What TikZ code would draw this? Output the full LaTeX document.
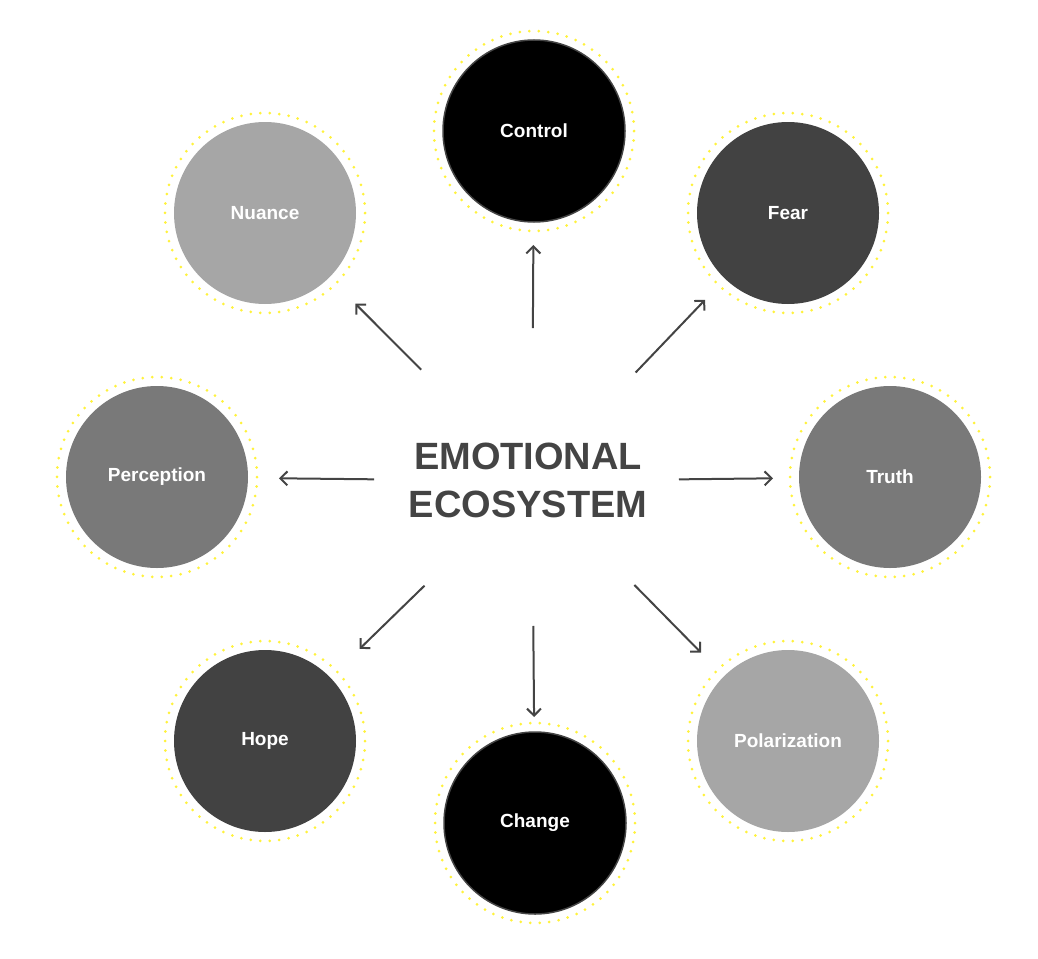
\documentclass[tikz,border=0pt]{standalone}
\usepackage{fontspec}
\setmainfont{Liberation Sans}
\usetikzlibrary{arrows.meta}
\definecolor{ringyellow}{RGB}{255,242,60}
\definecolor{titlegray}{RGB}{68,68,68}
\definecolor{darkfill}{RGB}{66,66,66}
\definecolor{midfill}{RGB}{121,121,121}
\definecolor{lightfill}{RGB}{166,166,166}

\begin{document}
\begin{tikzpicture}[x=1pt,y=-1pt,
    bubble/.style={circle,inner sep=0,minimum size=182pt,text=white,font=\fontsize{19}{22}\selectfont\bfseries},
    glow/.style={draw=ringyellow,line width=3pt,line cap=round,dash pattern=on 0pt off 9.52pt},
    link/.style={draw=titlegray,line width=2pt,-{Straight Barb[length=7pt,width=14pt]}}]
        \useasboundingbox (0,0) rectangle (1038,958);
        % Title
        \node[font=\fontsize{38}{48}\selectfont\bfseries,text=titlegray,align=center] (Title) at (528,480) {EMOTIONAL\\ECOSYSTEM};
        \coordinate (Hub) at (532,481);
        % Bubbles
        \node[bubble,fill=black,draw=titlegray,line width=1.5pt] (Control) at (534,131) {Control};
        \node[bubble,fill=darkfill] (Fear) at (788,213) {Fear};
        \node[bubble,fill=midfill] (Truth) at (890,477) {Truth};
        \node[bubble,fill=lightfill] (Polarization) at (788,741) {Polarization};
        \node[bubble,fill=black,draw=titlegray,line width=1.5pt] (Change) at (535,823) {Change};
        \node[bubble,fill=darkfill] (Hope) at (265,741) {Hope};
        \node[bubble,fill=midfill] (Perception) at (157,477) {Perception};
        \node[bubble,fill=lightfill] (Nuance) at (265,213) {Nuance};
        % Dotted rings
        \foreach \n in {Control,Fear,Truth,Polarization,Change,Hope,Perception,Nuance} { \draw[glow] (\n.center) circle[radius=100pt]; }
        % Arrows
        \foreach \n/\a/\b in {Control/153/114,Fear/150/120,Truth/147/117,Polarization/146/124,Change/145/106,Hope/150/132,Perception/158/122,Nuance/157/128} { \draw[link,shorten <=\a pt,shorten >=\b pt] (Hub) -- (\n.center); }
    \end{tikzpicture}
\end{document}
